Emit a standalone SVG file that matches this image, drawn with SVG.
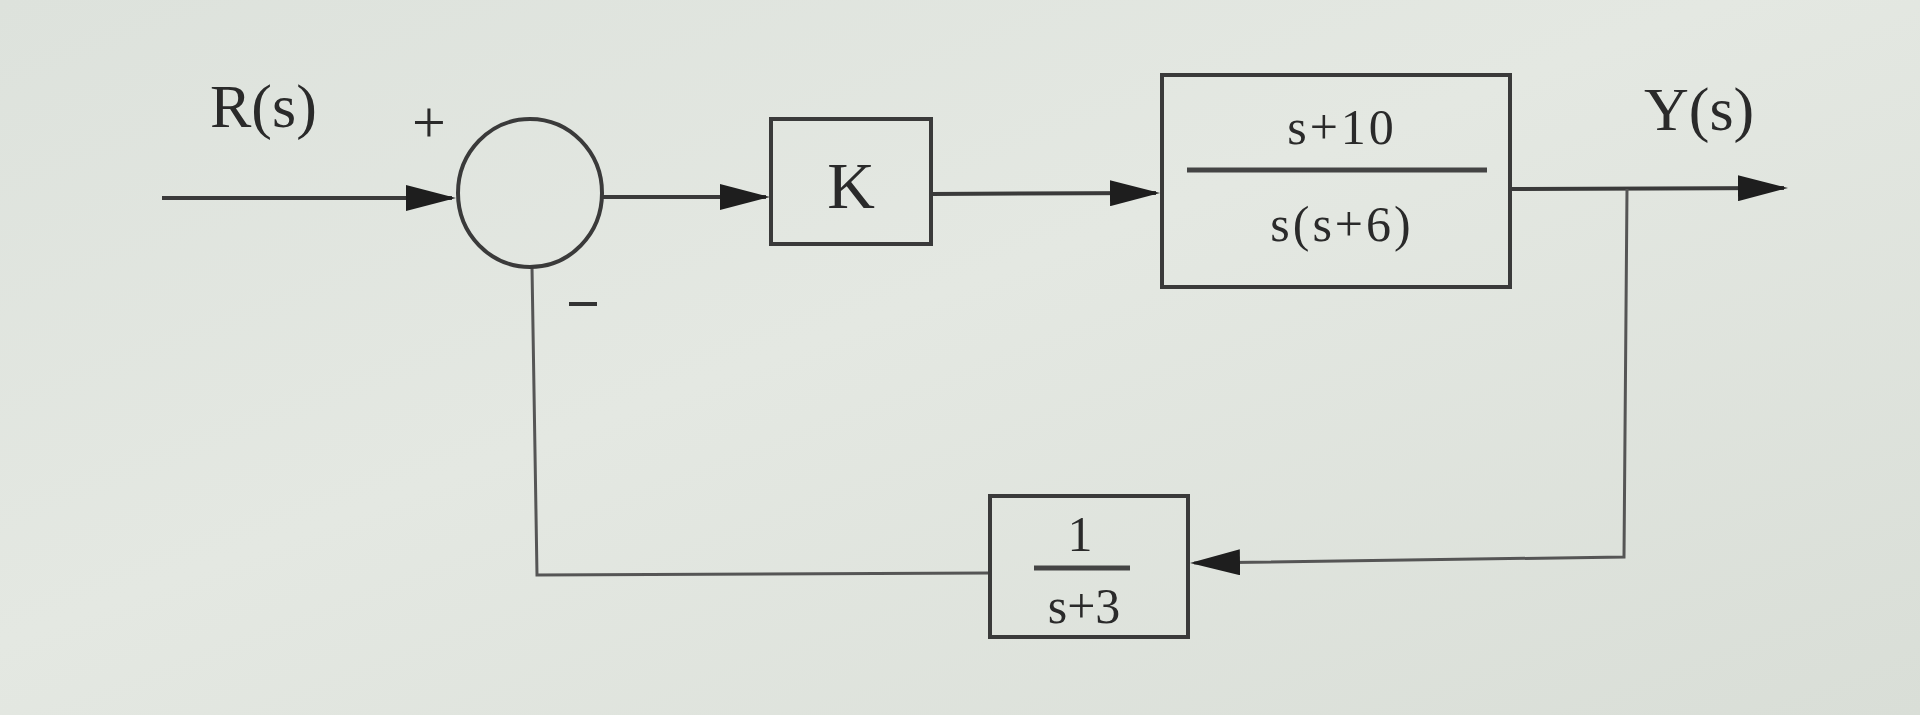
<svg xmlns="http://www.w3.org/2000/svg" width="1920" height="715" viewBox="0 0 1920 715">
  <defs>
    <linearGradient id="bg" x1="0" y1="0" x2="1" y2="1">
      <stop offset="0" stop-color="#dde2dc"/>
      <stop offset="0.45" stop-color="#e4e8e2"/>
      <stop offset="1" stop-color="#d9ded7"/>
    </linearGradient>
    <marker id="arr" viewBox="0 0 50 26" refX="46" refY="13" markerWidth="50" markerHeight="26" markerUnits="userSpaceOnUse" orient="auto">
      <path d="M0,0 L50,13 L0,26 Z" fill="#1e1e1e"/>
    </marker>
    <style>
      .blk { fill: none; stroke: #3a3a3a; stroke-width: 4; }
      .wire { fill: none; stroke: #3a3a3a; stroke-width: 4; }
      .thin { fill: none; stroke: #555; stroke-width: 3; }
      .bar { stroke: #444; stroke-width: 5; }
      text { font-family: "Liberation Serif", "Times New Roman", serif; fill: #2a2a2a; }
      .lbl { font-size: 62px; }
      .frac { font-size: 50px; text-anchor: middle; }
    </style>
  </defs>
  <rect width="1920" height="715" fill="url(#bg)"/>

  <g id="connectors">
    <line class="wire" x1="162" y1="198" x2="452" y2="198" marker-end="url(#arr)"/>
    <line class="wire" x1="603" y1="197" x2="766" y2="197" marker-end="url(#arr)"/>
    <line class="wire" x1="931" y1="194" x2="1156" y2="193" marker-end="url(#arr)"/>
    <line class="wire" x1="1510" y1="189" x2="1784" y2="188" marker-end="url(#arr)"/>
    <polyline class="thin" points="1627,189 1624,557 1194,563" marker-end="url(#arr)"/>
    <polyline class="thin" points="990,573 537,575 532,267"/>
  </g>

  <g id="label-R">
    <text class="lbl" x="210" y="127">R(s)</text>
  </g>
  <g id="label-Y">
    <text class="lbl" x="1644" y="130">Y(s)</text>
  </g>

  <g id="sum">
    <ellipse class="blk" cx="530" cy="193" rx="72" ry="74" stroke-width="3"/>
    <text x="429" y="142" font-size="60" text-anchor="middle">+</text>
    <line x1="569" y1="304" x2="597" y2="304" stroke="#333" stroke-width="4"/>
  </g>

  <g id="K">
    <rect class="blk" x="771" y="119" width="160" height="125"/>
    <text x="851" y="208" font-size="66" text-anchor="middle">K</text>
  </g>

  <g id="G">
    <rect class="blk" x="1162" y="75" width="348" height="212"/>
    <text class="frac" x="1342" y="144" letter-spacing="3">s+10</text>
    <line class="bar" x1="1187" y1="170" x2="1487" y2="170"/>
    <text class="frac" x="1342" y="241" letter-spacing="3">s(s+6)</text>
  </g>

  <g id="H">
    <rect class="blk" x="990" y="496" width="198" height="141"/>
    <text class="frac" x="1080" y="551" font-size="58">1</text>
    <line class="bar" x1="1034" y1="568" x2="1130" y2="568"/>
    <text class="frac" x="1084" y="623" font-size="46">s+3</text>
  </g>
</svg>
